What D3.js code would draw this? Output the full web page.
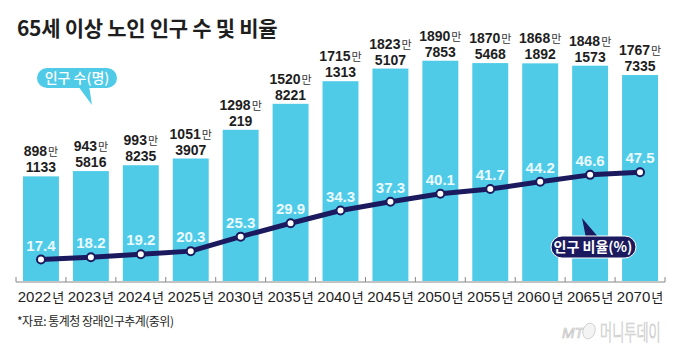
<!DOCTYPE html>
<html>
<head>
<meta charset="utf-8">
<script src="https://cdn.jsdelivr.net/npm/d3@7"></script>
<style>
  body { margin: 0; background: #fff; }
  svg { display: block; }
  .num { font-family: "Liberation Sans Narrow", "Arial Narrow", "Liberation Sans", sans-serif; }
  .kr { font-family: "Noto Sans CJK KR", "Noto Sans", sans-serif; }
</style>
</head>
<body>
<svg id="chart" width="680" height="360"></svg>
<script>
// chart data
const years = ["2022", "2023", "2024", "2025", "2030", "2035", "2040", "2045", "2050", "2055", "2060", "2065", "2070"];
const population = [8981133, 9435816, 9938235, 10513907, 12980219, 15208221, 17151313, 18235107, 18907853, 18705468, 18681892, 18481573, 17677335];
const ratio = [17.4, 18.2, 19.2, 20.3, 25.3, 29.9, 34.3, 37.3, 40.1, 41.7, 44.2, 46.6, 47.5];

const svg = d3.select("#chart");
const barColor = "#4fcbe8";
const navy = "#1b1a5e";

const data = years.map((y, i) => ({ year: y, pop: population[i], ratio: ratio[i] }));

// scales
const x = d3.scaleBand().domain(years).range([16, 665]).paddingInner(0.28).paddingOuter(0.14);
const yPop = d3.scaleLinear().domain([0, 2000]).range([281, 48]);   // in 만 명
const yRatio = d3.scaleLinear().domain([0, 50]).range([310, 165]);

// title
svg.append("text")
    .attr("class", "kr")
    .attr("x", 17).attr("y", 36)
    .attr("font-size", 21).attr("font-weight", 700)
    .attr("fill", "#1e1e1e")
    .attr("letter-spacing", -0.3)
    .text("65세 이상 노인 인구 수 및 비율");

// bars
svg.append("g").selectAll("rect")
    .data(data)
    .join("rect")
    .attr("x", d => x(d.year))
    .attr("width", x.bandwidth())
    .attr("y", d => yPop(d.pop / 10000))
    .attr("height", d => yPop(0) - yPop(d.pop / 10000))
    .attr("fill", barColor);

// value labels over bars: "898만" / "1133" (one text, two lines)
svg.append("g").selectAll("text")
    .data(data)
    .join("text")
    .attr("text-anchor", "middle")
    .attr("fill", "#1e1e1e")
    .each(function(d) {
        const cx = x(d.year) + x.bandwidth() / 2;
        const ty = yPop(d.pop / 10000);
        const t = d3.select(this);
        t.append("tspan")
            .attr("class", "num")
            .attr("x", cx).attr("y", ty - 20)
            .attr("font-size", 14).attr("font-weight", 700)
            .text(Math.floor(d.pop / 10000));
        t.append("tspan")
            .attr("class", "kr")
            .attr("dx", 1)
            .attr("font-size", 11)
            .attr("fill", "#333")
            .text("만");
        t.append("tspan")
            .attr("class", "num")
            .attr("x", cx).attr("y", ty - 4)
            .attr("font-size", 14).attr("font-weight", 700)
            .text(d.pop % 10000);
    });

// x axis
const axis = svg.append("g").attr("transform", "translate(0,282)");
axis.append("line")
    .attr("x1", 16).attr("x2", 665)
    .attr("stroke", "#888").attr("stroke-width", 1);
axis.selectAll(".tick")
    .data(d3.range(years.length + 1))
    .join("line")
    .attr("x1", i => 16 + x.step() * i)
    .attr("x2", i => 16 + x.step() * i)
    .attr("y1", -5).attr("y2", 0)
    .attr("stroke", "#888");

svg.append("g").selectAll("text")
    .data(years)
    .join("text")
    .attr("x", d => x(d) + x.bandwidth() / 2)
    .attr("y", 302)
    .attr("text-anchor", "middle")
    .attr("font-size", 15)
    .attr("fill", "#1e1e1e")
    .each(function(d) {
        const t = d3.select(this);
        t.append("tspan").attr("class", "num").text(d);
        t.append("tspan").attr("class", "kr").attr("dx", 1).attr("font-size", 13).text("년");
    });

// ratio line
const line = d3.line()
    .x(d => x(d.year) + x.bandwidth() / 2)
    .y(d => yRatio(d.ratio));

svg.append("path")
    .datum(data)
    .attr("d", line)
    .attr("fill", "none")
    .attr("stroke", navy)
    .attr("stroke-width", 5)
    .attr("stroke-linejoin", "round");

svg.append("g").selectAll("circle")
    .data(data)
    .join("circle")
    .attr("cx", d => x(d.year) + x.bandwidth() / 2)
    .attr("cy", d => yRatio(d.ratio))
    .attr("r", 4)
    .attr("fill", "#fff")
    .attr("stroke", navy)
    .attr("stroke-width", 2);

svg.append("g").selectAll("text")
    .data(data)
    .join("text")
    .attr("class", "num")
    .attr("x", d => x(d.year) + x.bandwidth() / 2)
    .attr("y", d => yRatio(d.ratio) - 9)
    .attr("text-anchor", "middle")
    .attr("font-size", 15).attr("font-weight", 700)
    .attr("fill", "#eafaff")
    .text(d => d.ratio.toFixed(1));

// callout: population
const c1 = svg.append("g");
c1.append("path")
    .attr("d", "M78,86 L92,105 L89,86 Z")
    .attr("fill", barColor);
c1.append("rect")
    .attr("x", 37).attr("y", 68).attr("width", 80).attr("height", 20).attr("rx", 10)
    .attr("fill", barColor);
c1.append("text")
    .attr("class", "kr")
    .attr("x", 77).attr("y", 83)
    .attr("text-anchor", "middle")
    .attr("font-size", 14).attr("font-weight", 500)
    .attr("fill", "#fff")
    .text("인구 수(명)");

// callout: ratio
const c2 = svg.append("g");
c2.append("path")
    .attr("d", "M586,238 L582,218 L599,238 Z")
    .attr("fill", navy);
c2.append("rect")
    .attr("x", 551).attr("y", 236).attr("width", 85).attr("height", 22).attr("rx", 11)
    .attr("fill", navy)
    .attr("stroke", "#fff").attr("stroke-width", 1);
c2.append("text")
    .attr("class", "kr")
    .attr("x", 593).attr("y", 252)
    .attr("text-anchor", "middle")
    .attr("font-size", 14).attr("font-weight", 700)
    .attr("fill", "#fff")
    .text("인구 비율(%)");

// source
svg.append("text")
    .attr("class", "kr")
    .attr("x", 17).attr("y", 326)
    .attr("font-size", 12)
    .attr("fill", "#1e1e1e")
    .attr("letter-spacing", -0.5)
    .text("*자료: 통계청 장래인구추계(중위)");

// watermark
const wm = svg.append("g").attr("fill", "#f4f4f4").attr("stroke", "#c4c4c4").attr("stroke-width", 0.7);
wm.append("text")
    .attr("class", "num")
    .attr("x", 562).attr("y", 338)
    .attr("font-size", 15).attr("font-style", "italic")
    .text("MT");
wm.append("ellipse")
    .attr("cx", 589).attr("cy", 331).attr("rx", 6).attr("ry", 8)
    .attr("transform", "rotate(20,589,331)");
wm.append("text")
    .attr("class", "kr")
    .attr("transform", "translate(600,340) scale(0.6,1)")
    .attr("font-size", 22).attr("font-weight", 300)
    .text("머니투데이");
</script>
</body>
</html>
